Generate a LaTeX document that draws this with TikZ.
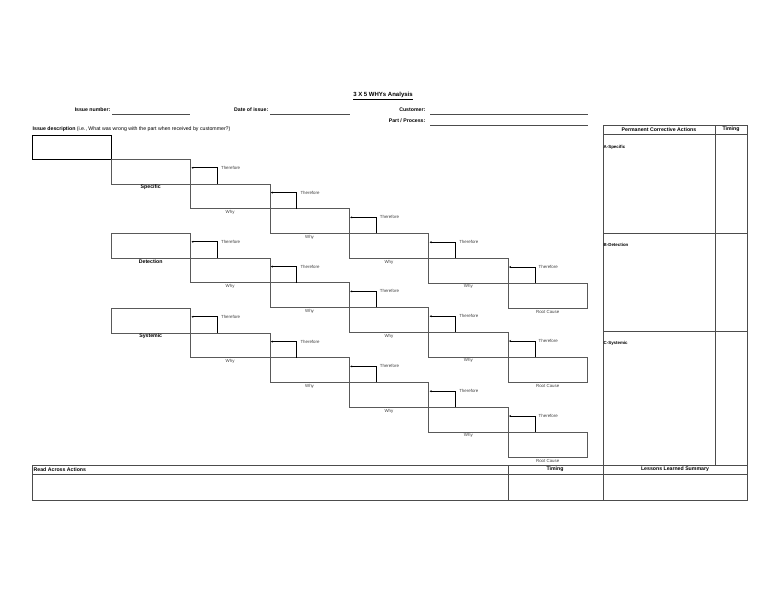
\documentclass[tikz,border=0pt]{standalone}
\usepackage{fontspec}
\setmainfont{Liberation Sans}
\usetikzlibrary{arrows.meta}
\begin{document}
\begin{tikzpicture}[x=1pt,y=-1pt,
  lbl/.style={font=\fontsize{5.2}{6}\selectfont\bfseries,inner sep=0.5pt},
  sm/.style={font=\fontsize{4.4}{5}\selectfont,text=black!75,inner sep=0.5pt},
  bx/.style={draw=black!65,line width=0.6pt},
  tb/.style={draw=black!70,line width=0.5pt},
  arr/.style={draw=black,line width=0.9pt,-{Stealth[length=2pt,width=2pt]}}]
\useasboundingbox (0,0) rectangle (768,594);
% header
\node[font=\fontsize{6}{7}\selectfont\bfseries] (title) at (383,96) {\underline{3\ X 5 WHYs Analysis}};
\node[lbl,anchor=east] (inum) at (111,110) {Issue number:};
\draw[tb] (112,114) -- (190,114);
\node[lbl,anchor=east] (doi) at (269,110) {Date of issue:};
\draw[tb] (270,114) -- (350,114);
\node[lbl,anchor=east] (cus) at (426,110) {Customer:};
\draw[tb] (430,114) -- (588,114);
\node[lbl,anchor=east] (pp) at (426,121) {Part / Process:};
\draw[tb] (430,125) -- (588,125);
\node[anchor=west,inner sep=0.5pt,font=\fontsize{5.2}{6}\selectfont] (idesc) at (32,129) {\textbf{Issue description} (i.e., What was wrong with the part when received by custommer?)};
\draw[draw=black,line width=0.8pt] (32,135) rectangle (111,159);
% chains
\foreach \cy/\nm in {159/Specific,233/Detection,308/Systemic}{
  \foreach \k in {0,...,5}{
    \pgfmathsetmacro{\xa}{111+79.4*\k}
    \pgfmathsetmacro{\ya}{\cy+24.8*\k}
    \draw[bx] (\xa,\ya) rectangle ++(79.4,24.8);
    \ifnum\k>0
      \draw[arr] (\xa+27,\ya) -- (\xa+27,\ya-16) -- (\xa+1,\ya-16);
      \node[sm,anchor=west] at (\xa+30,\ya-16) {Therefore};
    \fi
    \ifcase\k
      \node[lbl] at (\xa+39.7,\ya+28.5) {\nm};
    \or \node[sm] at (\xa+39.7,\ya+28.5) {Why};
    \or \node[sm] at (\xa+39.7,\ya+28.5) {Why};
    \or \node[sm] at (\xa+39.7,\ya+28.5) {Why};
    \or \node[sm] at (\xa+39.7,\ya+28.5) {Why};
    \or \node[sm] at (\xa+39.7,\ya+28.5) {Root Cause};
    \fi
  }
}
% right table
\draw[tb] (603,125) rectangle (747,465);
\draw[tb] (603,134) -- (747,134);
\draw[tb] (715,125) -- (715,465);
\draw[tb] (603,233) -- (747,233);
\draw[tb] (603,331) -- (747,331);
\node[lbl] (pca) at (659,129.5) {Permanent Corrective Actions};
\node[lbl] (tim1) at (731,129.5) {Timing};
\node[lbl,anchor=west,font=\fontsize{4.4}{5}\selectfont\bfseries] (as) at (603,147) {A-Specific};
\node[lbl,anchor=west,font=\fontsize{4.4}{5}\selectfont\bfseries] (bd) at (603,245) {B-Detection};
\node[lbl,anchor=west,font=\fontsize{4.4}{5}\selectfont\bfseries] (cs) at (603,343) {C-Systemic};
% bottom table
\draw[tb] (32,465) rectangle (747,500);
\draw[tb] (32,474) -- (747,474);
\draw[tb] (508,465) -- (508,500);
\draw[tb] (603,465) -- (603,500);
\node[lbl,anchor=west] (raa) at (33,469.5) {Read Across Actions};
\node[lbl] (tim2) at (555,469.5) {Timing};
\node[lbl] (lls) at (675,469.5) {Lessons Learned Summary};
\end{tikzpicture}
\end{document}
